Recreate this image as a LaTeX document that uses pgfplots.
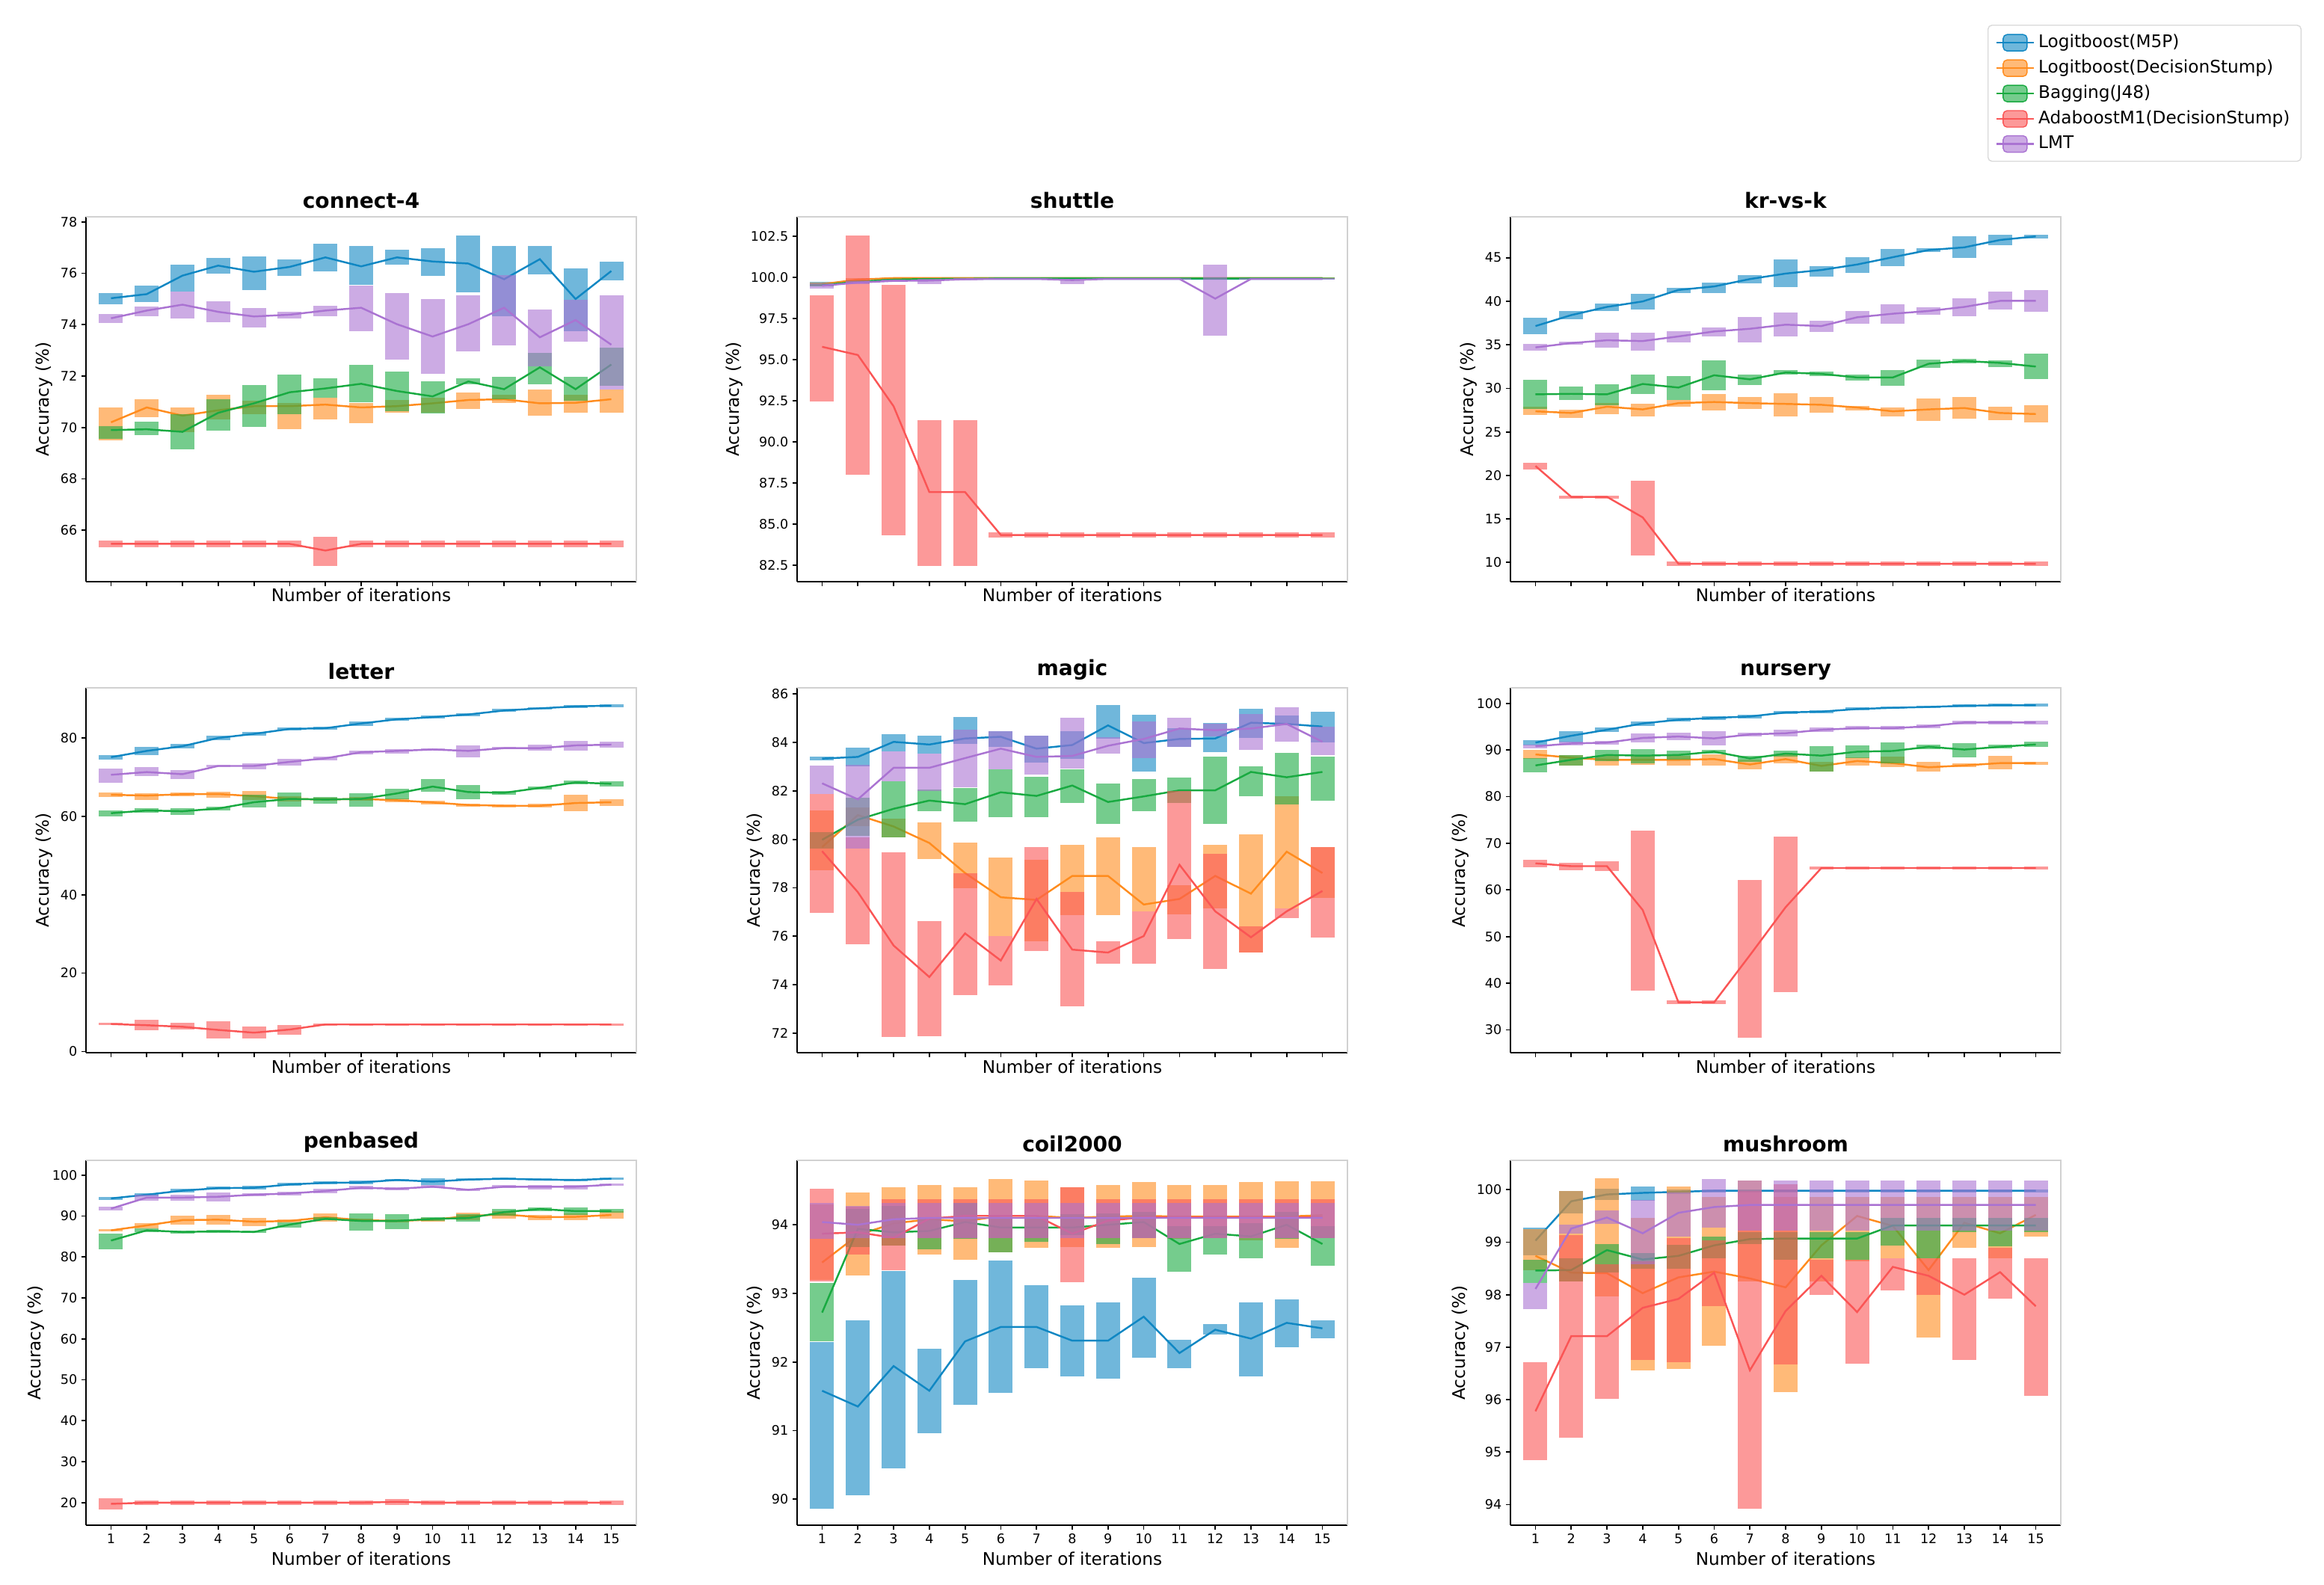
\documentclass[border=0pt]{standalone}
\usepackage{fontspec}
\setmainfont{DejaVu Sans}
\usepackage{pgfplots}
\usepackage{pgfplotstable}
\pgfplotsset{compat=1.18}
\definecolor{cb}{RGB}{16,135,195}
\definecolor{co}{RGB}{255,140,30}
\definecolor{cg}{RGB}{25,170,65}
\definecolor{cr}{RGB}{250,85,85}
\definecolor{cp}{RGB}{170,115,210}
\newcommand\tickfont{\fontsize{5}{6}\selectfont}
\newcommand\labfont{\fontsize{6.6}{8}\selectfont}
\newcommand\titfont{\bfseries\fontsize{8}{9.6}\selectfont}

% columns: x, Logitboost(M5P) b, Logitboost(DS) o, Bagging(J48) g, AdaboostM1(DS) r, LMT p ; m=mean l=low h=high
\pgfplotstableread{
x bm bl bh om ol oh gm gl gh rm rl rh pm pl ph
1 75.03 74.78 75.24 70.20 69.51 70.78 69.90 69.56 70.04 65.47 65.33 65.60 74.25 74.07 74.42
2 75.19 74.87 75.53 70.78 70.41 71.10 69.93 69.69 70.22 65.47 65.33 65.60 74.55 74.34 74.71
3 75.91 75.29 76.35 70.46 69.83 70.78 69.83 69.16 70.52 65.47 65.33 65.60 74.78 74.23 75.29
4 76.30 75.98 76.59 70.67 70.30 71.26 70.57 69.88 71.10 65.47 65.33 65.60 74.50 74.10 74.92
5 76.06 75.35 76.67 70.83 70.52 71.05 70.94 70.01 71.66 65.47 65.33 65.60 74.32 73.89 74.66
6 76.25 75.91 76.55 70.83 69.93 70.94 71.37 70.52 72.06 65.47 65.33 65.60 74.39 74.25 74.50
7 76.62 76.07 77.15 70.89 70.32 71.15 71.52 71.15 71.92 65.21 64.62 65.74 74.55 74.32 74.74
8 76.27 75.56 77.07 70.78 70.18 70.94 71.70 70.99 72.43 65.47 65.33 65.60 74.66 73.75 75.51
9 76.62 76.33 76.91 70.83 70.57 71.07 71.42 70.62 72.19 65.47 65.33 65.60 74.02 72.64 75.24
10 76.46 75.91 76.99 70.94 70.57 71.15 71.21 70.54 71.79 65.47 65.33 65.60 73.54 72.09 75.00
11 76.38 75.27 77.47 71.07 70.73 71.37 71.79 71.68 71.90 65.47 65.33 65.60 74.02 72.95 75.13
12 75.77 74.34 77.07 71.10 70.94 71.26 71.49 71.10 71.98 65.47 65.33 65.60 74.66 73.19 75.93
13 76.55 75.95 77.07 70.94 70.46 71.47 72.34 71.68 72.90 65.47 65.33 65.60 73.51 72.37 74.60
14 75.00 73.75 76.20 70.96 70.57 71.26 71.49 71.05 71.98 65.47 65.33 65.60 74.18 73.33 74.97
15 76.09 75.74 76.44 71.10 70.57 71.47 72.45 71.63 73.12 65.47 65.33 65.60 73.22 71.47 75.13
}\tC

\pgfplotstableread{
x bm bl bh om ol oh gm gl gh rm rl rh pm pl ph
1 99.62 99.45 99.75 99.60 99.50 99.70 99.55 99.45 99.65 95.79 92.47 98.94 99.50 99.35 99.65
2 99.75 99.65 99.85 99.88 99.80 99.95 99.75 99.65 99.85 95.29 87.99 102.54 99.70 99.60 99.80
3 99.85 99.80 99.90 99.97 99.92 100.02 99.88 99.83 99.93 92.17 84.30 99.55 99.80 99.72 99.88
4 99.90 99.85 99.95 99.97 99.92 100.02 99.92 99.87 99.97 86.95 82.47 91.34 99.82 99.60 99.90
5 99.92 99.87 99.97 99.97 99.92 100.02 99.93 99.88 99.98 86.95 82.47 91.34 99.90 99.85 99.95
6 99.93 99.88 99.98 99.98 99.93 100.03 99.95 99.90 100.00 84.34 84.18 84.50 99.92 99.87 99.97
7 99.93 99.88 99.98 99.98 99.93 100.03 99.95 99.90 100.00 84.34 84.18 84.50 99.92 99.87 99.97
8 99.93 99.88 99.98 99.98 99.93 100.03 99.95 99.90 100.00 84.34 84.18 84.50 99.85 99.60 99.92
9 99.93 99.88 99.98 99.98 99.93 100.03 99.95 99.90 100.00 84.34 84.18 84.50 99.92 99.87 99.97
10 99.93 99.88 99.98 99.98 99.93 100.03 99.95 99.90 100.00 84.34 84.18 84.50 99.92 99.87 99.97
11 99.93 99.88 99.98 99.98 99.93 100.03 99.95 99.90 100.00 84.34 84.18 84.50 99.92 99.87 99.97
12 99.93 99.88 99.98 99.98 99.93 100.03 99.95 99.90 100.00 84.34 84.18 84.50 98.72 96.48 100.80
13 99.93 99.88 99.98 99.98 99.93 100.03 99.95 99.90 100.00 84.34 84.18 84.50 99.92 99.87 99.97
14 99.93 99.88 99.98 99.98 99.93 100.03 99.95 99.90 100.00 84.34 84.18 84.50 99.92 99.87 99.97
15 99.93 99.88 99.98 99.98 99.93 100.03 99.95 99.90 100.00 84.34 84.18 84.50 99.92 99.87 99.97
}\tS

\pgfplotstableread{
x bm bl bh om ol oh gm gl gh rm rl rh pm pl ph
1 37.15 36.21 38.09 27.36 26.95 27.89 29.31 27.67 30.94 21.08 20.67 21.46 34.70 34.33 35.11
2 38.41 37.94 38.88 27.17 26.64 27.58 29.37 28.68 30.19 17.54 17.35 17.70 35.20 35.00 35.40
3 39.35 38.88 39.73 27.89 27.05 28.36 29.31 28.05 30.50 17.54 17.35 17.70 35.52 34.64 36.37
4 39.98 39.04 40.86 27.58 26.80 28.21 30.50 29.31 31.57 15.18 10.79 19.42 35.43 34.33 36.37
5 41.30 40.92 41.55 28.30 27.89 28.62 30.09 28.62 31.44 9.85 9.60 10.10 35.96 35.27 36.53
6 41.70 40.92 42.18 28.43 27.42 29.31 31.50 29.78 33.23 9.85 9.60 10.10 36.53 35.96 37.00
7 42.55 42.02 42.96 28.30 27.67 28.99 31.03 30.40 31.57 9.85 9.60 10.10 36.84 35.27 38.16
8 43.18 41.61 44.84 28.21 26.73 29.46 31.82 31.55 32.10 9.85 9.60 10.10 37.31 35.96 38.72
9 43.59 42.87 44.06 28.11 27.17 28.99 31.66 31.40 31.90 9.85 9.60 10.10 37.15 36.46 37.78
10 44.22 43.27 45.06 27.80 27.50 28.00 31.25 30.90 31.60 9.85 9.60 10.10 38.16 37.40 38.88
11 45.06 44.00 46.00 27.36 26.80 27.80 31.25 30.31 32.07 9.85 9.60 10.10 38.57 37.40 39.66
12 45.88 45.63 46.10 27.58 26.23 28.84 32.82 32.38 33.32 9.85 9.60 10.10 38.88 38.41 39.35
13 46.19 44.94 47.45 27.74 26.48 28.99 33.14 32.90 33.40 9.85 9.60 10.10 39.35 38.25 40.35
14 47.04 46.41 47.67 27.17 26.32 27.89 32.92 32.44 33.23 9.85 9.60 10.10 40.04 39.04 41.08
15 47.45 47.20 47.67 27.05 26.10 28.05 32.50 31.03 33.95 9.85 9.60 10.10 40.04 38.79 41.30
}\tK

\pgfplotstableread{
x bm bl bh om ol oh gm gl gh rm rl rh pm pl ph
1 75.10 74.40 75.66 65.50 65.00 66.00 60.80 59.90 61.50 7.00 6.70 7.30 70.60 68.66 72.16
2 76.70 75.66 77.76 65.30 64.10 65.85 61.50 61.00 62.00 6.70 5.50 8.10 71.30 70.20 72.50
3 77.90 77.40 78.50 65.64 65.20 66.00 61.30 60.40 62.00 6.30 5.60 7.40 70.76 69.50 71.80
4 80.00 79.50 80.50 65.70 64.80 66.30 62.00 61.50 62.40 5.50 3.40 7.70 72.86 72.50 73.20
5 81.05 80.60 81.50 65.15 64.10 66.55 63.60 62.35 65.50 4.80 3.40 6.30 72.86 72.00 73.56
6 82.30 81.90 82.70 64.45 63.80 65.10 64.45 62.50 66.10 5.60 4.30 6.70 73.90 72.86 74.60
7 82.50 82.10 82.90 64.30 63.90 64.70 64.30 63.20 65.00 6.90 6.60 7.20 74.80 74.30 75.30
8 83.70 83.10 84.20 64.45 64.00 64.90 64.45 62.50 65.85 6.90 6.60 7.20 76.36 75.80 76.70
9 84.76 84.40 85.10 64.10 63.70 64.50 65.85 64.45 67.10 6.90 6.60 7.20 76.70 76.10 77.06
10 85.32 84.90 85.70 63.54 63.10 63.90 67.60 66.20 69.50 6.90 6.60 7.20 77.06 76.70 77.40
11 86.00 85.60 86.40 62.90 62.50 63.30 66.20 64.45 67.95 6.90 6.60 7.20 76.70 74.96 78.10
12 87.00 86.60 87.40 62.70 62.30 63.10 66.00 65.60 66.40 6.90 6.60 7.20 77.40 77.10 77.70
13 87.56 87.20 87.90 62.70 62.20 63.20 67.25 66.90 67.60 6.90 6.60 7.20 77.40 76.70 78.30
14 88.05 87.70 88.40 63.40 61.30 65.50 68.66 68.10 69.20 6.90 6.60 7.20 78.10 76.70 79.16
15 88.26 87.90 88.60 63.60 62.70 64.30 68.30 67.60 69.00 6.90 6.60 7.20 78.30 77.60 79.00
}\tL

\pgfplotstableread{
x bm bl bh om ol oh gm gl gh rm rl rh pm pl ph
1 83.33 83.26 83.40 79.68 78.72 81.20 79.98 79.62 80.30 79.51 76.97 81.88 82.31 81.88 83.03
2 83.40 83.00 83.78 81.00 80.53 81.32 80.81 80.13 81.71 77.82 75.67 80.07 81.65 79.62 83.07
3 84.02 83.63 84.34 80.53 80.07 80.86 81.26 80.07 82.39 75.62 71.84 79.45 82.95 82.39 83.63
4 83.91 83.52 84.27 79.85 79.19 80.70 81.60 81.15 82.05 74.32 71.89 76.63 82.95 81.99 83.52
5 84.16 83.93 85.04 78.61 77.99 79.85 81.45 80.73 82.13 76.12 73.58 78.61 83.35 82.16 84.53
6 84.23 83.80 84.45 77.61 76.00 79.26 81.94 80.92 82.90 75.00 73.98 76.01 83.74 82.90 84.45
7 83.74 83.18 84.27 77.50 75.79 79.17 81.79 80.92 82.58 77.54 75.39 79.68 83.40 82.67 84.27
8 83.89 83.33 84.45 78.49 76.86 79.76 82.22 81.49 82.90 75.45 73.10 77.82 83.44 82.92 85.02
9 84.70 84.16 85.55 78.49 76.86 80.07 81.54 80.64 82.31 75.33 74.88 75.79 83.86 83.52 84.20
10 83.97 82.78 85.13 77.31 77.03 79.68 81.77 81.15 82.50 76.01 74.88 77.03 84.14 83.35 84.87
11 84.14 83.80 84.57 77.54 76.91 78.10 82.02 81.49 82.56 78.95 75.90 81.99 84.57 83.80 85.02
12 84.16 83.60 84.79 78.49 77.14 79.76 82.02 80.64 83.40 77.03 74.66 79.40 84.50 84.25 84.76
13 84.81 84.19 85.38 77.76 75.33 80.19 82.78 81.77 83.00 75.96 75.33 76.41 84.57 83.69 85.18
14 84.76 84.70 85.10 79.49 77.14 81.77 82.56 81.43 83.57 77.03 76.74 77.14 84.76 84.02 85.44
15 84.65 84.00 85.27 78.61 77.59 79.68 82.78 81.60 83.40 77.87 75.96 79.68 84.02 83.46 84.65
}\tM

\pgfplotstableread{
x bm bl bh om ol oh gm gl gh rm rl rh pm pl ph
1 91.60 91.00 92.20 89.06 88.06 90.10 86.70 85.30 88.35 65.70 64.90 66.50 90.80 90.40 91.20
2 93.06 91.60 94.10 88.35 86.60 88.94 87.90 86.60 88.94 65.10 64.20 65.90 91.40 91.00 91.80
3 94.35 93.90 94.80 87.90 86.60 88.70 88.94 87.70 90.10 65.10 64.10 66.10 91.60 91.20 92.00
4 95.70 95.20 96.20 87.90 86.90 88.80 88.80 87.20 90.20 55.70 38.35 72.76 92.60 91.60 93.50
5 96.50 96.10 96.90 87.90 86.60 88.70 88.94 87.90 89.80 35.90 35.50 36.30 92.90 92.20 93.80
6 96.90 96.50 97.30 88.06 86.60 89.00 89.65 89.20 90.10 35.90 35.50 36.30 92.50 91.00 94.10
7 97.20 96.80 97.60 86.90 85.90 87.95 88.20 87.50 88.80 46.00 28.35 62.20 93.35 92.90 93.80
8 98.06 97.70 98.40 88.06 87.10 89.00 89.24 88.60 89.80 56.30 38.06 71.40 93.60 92.90 94.35
9 98.24 97.90 98.60 86.60 85.40 87.40 88.80 85.40 90.80 64.70 64.30 65.10 94.35 93.90 94.80
10 98.80 98.50 99.10 87.65 86.60 88.50 89.65 88.30 91.00 64.70 64.30 65.10 94.70 94.30 95.10
11 99.06 98.80 99.30 87.20 86.30 88.60 89.80 87.20 91.60 64.70 64.30 65.10 94.70 94.30 95.10
12 99.24 99.00 99.50 86.30 85.40 87.40 90.70 90.20 91.20 64.70 64.30 65.10 95.10 94.70 95.50
13 99.50 99.20 99.80 86.70 86.30 87.10 90.10 88.50 91.40 64.70 64.30 65.10 95.90 95.50 96.30
14 99.60 99.30 99.90 87.20 85.80 88.70 90.70 90.30 91.10 64.70 64.30 65.10 95.90 95.50 96.30
15 99.60 99.30 99.90 87.20 86.90 87.50 91.20 90.60 91.80 64.70 64.30 65.10 95.90 95.50 96.30
}\tN

\pgfplotstableread{
x bm bl bh om ol oh gm gl gh rm rl rh pm pl ph
1 94.30 94.00 94.60 86.50 86.20 86.80 84.00 81.80 85.75 19.70 18.30 21.15 91.80 91.40 92.30
2 95.20 94.80 95.60 87.70 87.00 88.30 86.50 86.10 86.90 20.00 19.50 20.50 94.50 93.80 95.20
3 96.20 95.80 96.60 89.00 87.90 90.00 86.10 85.70 86.50 20.00 19.50 20.50 94.50 93.80 95.20
4 96.80 96.40 97.20 89.10 87.90 90.30 86.25 85.90 86.60 20.00 19.50 20.50 94.70 93.60 95.70
5 96.90 96.50 97.30 88.60 87.50 89.60 86.10 85.80 86.40 20.00 19.50 20.50 95.20 94.80 95.60
6 97.70 97.30 98.10 88.80 88.40 89.20 87.90 87.20 88.40 20.00 19.50 20.50 95.50 95.10 95.90
7 98.10 97.70 98.50 89.70 88.60 90.70 89.30 88.90 89.70 20.00 19.50 20.50 96.10 95.60 96.60
8 98.20 97.80 98.60 89.00 88.60 89.40 88.80 86.50 90.70 20.00 19.50 20.50 96.90 96.50 97.30
9 98.80 98.50 99.10 88.80 88.40 89.20 88.80 86.80 90.40 20.20 19.50 20.90 96.65 96.30 97.00
10 98.40 97.60 99.20 89.10 88.70 89.50 89.30 88.80 89.80 20.00 19.50 20.50 97.15 96.80 97.50
11 98.90 98.60 99.20 90.00 88.90 90.90 89.50 88.60 90.40 20.00 19.50 20.50 96.40 96.10 96.70
12 99.10 98.80 99.40 90.40 89.30 91.10 90.95 90.10 91.80 20.00 19.50 20.50 97.15 96.80 97.50
13 98.90 98.60 99.20 89.70 88.90 90.30 91.70 91.20 92.10 20.00 19.50 20.50 97.15 96.40 97.60
14 98.80 98.50 99.10 89.80 88.90 90.70 91.20 90.20 92.10 20.00 19.50 20.50 97.15 96.40 97.60
15 99.10 98.80 99.40 90.25 89.30 91.10 91.20 90.80 91.70 20.00 19.50 20.50 97.65 97.30 98.00
}\tP

\pgfplotstableread{
x bm bl bh om ol oh gm gl gh rm rl rh pm pl ph
1 91.58 89.86 92.29 93.45 93.20 94.30 92.72 92.30 93.15 93.87 93.17 94.52 94.04 93.79 94.32
2 91.35 90.06 92.61 93.85 93.26 94.47 93.94 93.68 94.23 93.89 93.57 94.26 94.00 93.81 94.28
3 91.94 90.45 93.33 94.02 93.70 94.55 93.89 93.70 94.27 93.81 93.34 94.37 94.08 93.81 94.32
4 91.58 90.96 92.19 94.08 93.57 94.58 93.91 93.64 94.11 94.09 93.81 94.37 94.10 93.81 94.32
5 92.30 91.37 93.19 94.05 93.49 94.55 94.04 93.79 94.32 94.13 93.81 94.37 94.10 93.81 94.32
6 92.51 91.55 93.48 94.13 93.60 94.67 93.96 93.60 94.11 94.13 93.81 94.37 94.10 93.81 94.32
7 92.51 91.91 93.12 94.13 93.66 94.65 93.96 93.75 94.11 94.13 93.81 94.37 94.10 93.81 94.32
8 92.31 91.79 92.82 94.10 93.68 94.55 93.96 93.85 94.15 93.87 93.16 94.55 94.10 93.81 94.32
9 92.31 91.76 92.87 94.12 93.66 94.58 94.00 93.72 94.17 94.06 93.81 94.37 94.10 93.81 94.32
10 92.66 92.06 93.23 94.13 93.67 94.62 94.04 93.81 94.19 94.11 93.81 94.37 94.10 93.81 94.32
11 92.13 91.91 92.32 94.12 93.79 94.58 93.72 93.31 93.98 94.11 93.81 94.37 94.10 93.81 94.32
12 92.47 92.40 92.55 94.12 93.81 94.58 93.87 93.57 93.98 94.11 93.81 94.37 94.10 93.81 94.32
13 92.34 91.79 92.87 94.12 93.77 94.62 93.83 93.51 94.02 94.11 93.81 94.37 94.10 93.81 94.32
14 92.57 92.21 92.91 94.12 93.66 94.63 94.00 93.79 94.19 94.11 93.81 94.37 94.10 93.81 94.32
15 92.49 92.35 92.61 94.14 93.81 94.63 93.72 93.40 93.98 94.11 93.81 94.37 94.10 93.81 94.32
}\tCo

\pgfplotstableread{
x bm bl bh om ol oh gm gl gh rm rl rh pm pl ph
1 99.03 98.75 99.28 98.74 98.47 99.25 98.46 98.22 98.67 95.78 94.85 96.71 98.11 97.72 98.22
2 99.78 99.55 99.98 98.42 98.25 99.97 98.47 98.25 98.69 97.21 95.28 99.13 99.26 99.17 99.33
3 99.91 99.80 100.02 98.41 97.97 100.22 98.85 98.42 98.97 97.21 96.02 98.58 99.47 99.35 99.60
4 99.94 99.79 100.06 98.03 96.56 99.47 98.67 98.50 98.80 97.75 96.75 98.64 99.17 98.58 99.81
5 99.96 99.92 100.00 98.33 96.58 100.06 98.74 98.50 98.95 97.92 96.72 99.08 99.56 99.10 99.95
6 99.98 99.95 100.01 98.44 97.03 99.86 98.94 98.70 99.10 98.42 97.78 99.03 99.67 99.28 100.20
7 99.98 99.95 100.01 98.31 98.25 100.17 99.06 98.97 99.19 96.56 93.93 99.97 99.71 99.22 100.17
8 99.98 99.95 100.01 98.14 96.14 99.86 99.07 98.67 99.19 97.69 96.67 100.11 99.71 99.22 100.17
9 99.98 99.95 100.01 98.94 98.25 99.86 99.07 98.69 99.19 98.36 98.00 98.67 99.71 99.22 100.17
10 99.98 99.95 100.01 99.50 98.64 99.86 99.07 98.67 99.19 97.67 96.69 98.67 99.71 99.22 100.17
11 99.98 99.95 100.01 99.31 98.69 99.86 99.32 98.94 99.47 98.53 98.08 98.69 99.71 99.22 100.17
12 99.98 99.95 100.01 98.47 97.19 99.86 99.32 98.69 99.47 98.36 98.00 98.69 99.71 99.22 100.17
13 99.98 99.95 100.01 99.37 98.90 99.86 99.32 99.19 99.47 98.00 96.75 98.69 99.71 99.22 100.17
14 99.98 99.95 100.01 99.17 98.69 99.86 99.32 98.92 99.47 98.43 97.93 98.89 99.71 99.22 100.17
15 99.98 99.95 100.01 99.52 99.10 99.86 99.32 99.19 99.47 97.78 96.07 98.69 99.71 99.22 100.17
}\tMu

\pgfplotsset{
  panel/.style={
    scale only axis, width=73.6mm, height=48.8mm,
    xmin=0.3, xmax=15.7, xtick={1,...,15},
    axis x line*=bottom, axis y line*=left,
    axis line style={-, line width=0.8pt, black},
    tick align=outside, major tick length=0.6mm,
    tick style={black, line width=0.5pt},
    tick label style={font=\tickfont},
    label style={font=\labfont},
    title style={font=\titfont, at={(0.5,1)}, anchor=south, yshift=-1.7mm, inner sep=0.6mm},
    xlabel={Number of iterations}, ylabel={Accuracy (\%)},
    /pgf/number format/assume math mode=true,
    xlabel style={inner sep=0.5mm},
    ylabel style={inner sep=0.5mm},
    yticklabel style={inner sep=0.5mm},
    xticklabel style={inner sep=0.5mm},
    after end axis/.code={\draw[black!18, line width=0.5pt] (rel axis cs:0,1) -- (rel axis cs:1,1) -- (rel axis cs:1,0);},
  },
  notick/.style={xticklabels={}, xlabel style={yshift=1.3mm}},
}

\newcommand\ser[3]{%
  \addplot[forget plot, draw=none, mark=none,
    error bars/.cd, y dir=both, y explicit, error mark=none,
    error bar style={draw=#1, line width=3.2mm, draw opacity=0.6, solid}]
    table[x=x, y=#2m, y error plus expr={\thisrow{#2h}-\thisrow{#2m}}, y error minus expr={\thisrow{#2m}-\thisrow{#2l}}] {#3};
  \addplot[forget plot, #1, line width=0.7pt, mark=none] table[x=x, y=#2m] {#3};
}
\newcommand\allser[1]{\ser{cb}{b}{#1}\ser{co}{o}{#1}\ser{cg}{g}{#1}\ser{cr}{r}{#1}\ser{cp}{p}{#1}}
\newcommand\legimg[1]{\addlegendimage{legend image code/.code={\fill[#1,fill opacity=0.6] (0.9mm,-1.1mm) rectangle (4.1mm,1.1mm);\draw[#1,line width=0.7pt] (0mm,0mm) -- (5mm,0mm);}}}

\begin{document}
\begin{tikzpicture}
\path[use as bounding box] (0,0) rectangle (310.8mm,212mm);

% row 1
\begin{axis}[panel, notick, at={(11.5mm,134.2mm)}, anchor=south west, title={connect-4},
  ymin=64, ymax=78.2, ytick={66,68,...,78}]
\allser{\tC}
\end{axis}
\begin{axis}[panel, notick, at={(106.6mm,134.2mm)}, anchor=south west, title={shuttle},
  ymin=81.5, ymax=103.7, ytick={82.5,85,...,102.5},
  yticklabel style={/pgf/number format/.cd, fixed, fixed zerofill, precision=1}]
\allser{\tS}
\end{axis}
\begin{axis}[panel, notick, at={(202.0mm,134.2mm)}, anchor=south west, title={kr-vs-k},
  ymin=7.8, ymax=49.7, ytick={10,15,...,45},
  legend cell align=left,
  legend style={at={(1.4375,1.5265)}, anchor=north east, draw=black!15, rounded corners=1.5pt,
    font=\labfont, row sep=0.3pt, inner xsep=1mm, inner ysep=0.7mm,
    nodes={inner sep=0.5mm}}]
\allser{\tK}
\legimg{cb}\addlegendentry{Logitboost(M5P)}
\legimg{co}\addlegendentry{Logitboost(DecisionStump)}
\legimg{cg}\addlegendentry{Bagging(J48)}
\legimg{cr}\addlegendentry{AdaboostM1(DecisionStump)}
\legimg{cp}\addlegendentry{LMT}
\end{axis}

% row 2
\begin{axis}[panel, notick, at={(11.5mm,71.2mm)}, anchor=south west, title={letter},
  ymin=-0.3, ymax=92.8, ytick={0,20,...,80}]
\allser{\tL}
\end{axis}
\begin{axis}[panel, notick, at={(106.6mm,71.2mm)}, anchor=south west, title={magic},
  ymin=71.2, ymax=86.25, ytick={72,74,...,86}]
\allser{\tM}
\end{axis}
\begin{axis}[panel, notick, at={(202.0mm,71.2mm)}, anchor=south west, title={nursery},
  ymin=25.1, ymax=103.35, ytick={30,40,...,100}]
\allser{\tN}
\end{axis}

% row 3
\begin{axis}[panel, at={(11.5mm,8.0mm)}, anchor=south west, title={penbased},
  ymin=14.5, ymax=103.6, ytick={20,30,...,100}]
\allser{\tP}
\end{axis}
\begin{axis}[panel, at={(106.6mm,8.0mm)}, anchor=south west, title={coil2000},
  ymin=89.62, ymax=94.94, ytick={90,91,...,94}]
\allser{\tCo}
\end{axis}
\begin{axis}[panel, at={(202.0mm,8.0mm)}, anchor=south west, title={mushroom},
  ymin=93.61, ymax=100.56, ytick={94,95,...,100}]
\allser{\tMu}
\end{axis}
\end{tikzpicture}
\end{document}
